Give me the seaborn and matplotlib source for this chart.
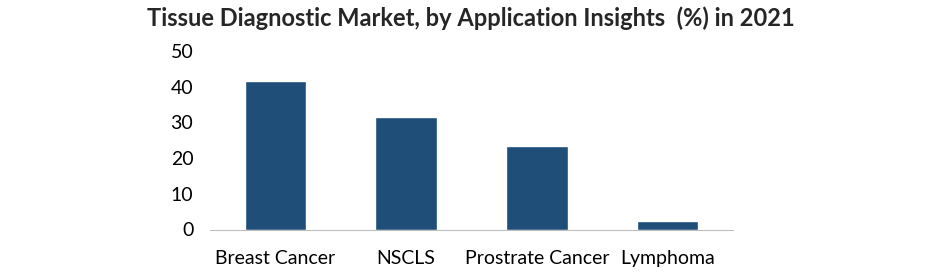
import matplotlib
matplotlib.use("Agg")
import matplotlib.pyplot as plt
import seaborn as sns
import pandas as pd
from matplotlib.ticker import FixedLocator

categories = ["Breast Cancer", "NSCLS", "Prostrate Cancer", "Lymphoma"]
values = [41.5, 31.5, 23.4, 2.4]
yticks = [0, 10, 20, 30, 40, 50]
title = "Tissue Diagnostic Market, by Application Insights  (%) in 2021"

sns.set_theme(style="white")
plt.rcParams['font.family'] = ['Lato', 'DejaVu Sans']

df = pd.DataFrame({"Application": categories, "Share": values})

fig = plt.figure(figsize=(9.41, 2.74), dpi=100)
ax = fig.add_axes([210/941, 1-229.5/274, (733-210)/941, (229.5-51)/274])
sns.barplot(data=df, x="Application", y="Share", color="#1F4E79", saturation=1,
            width=0.47, ax=ax)
ax.set_ylim(0, 50)
ax.set_xlim(-0.5, len(categories) - 0.5)
ax.set_yticks(yticks)
ax.set_xlabel("")
ax.set_ylabel("")
for s in ["top", "right", "left"]:
    ax.spines[s].set_visible(False)
ax.spines["bottom"].set_color("#BFBFBF")
ax.spines["bottom"].set_linewidth(0.8)
ax.tick_params(axis="y", length=0, labelsize=14, pad=12, colors="#000000")
ax.tick_params(axis="x", which="major", length=0, labelsize=14, pad=15, colors="#000000")
ax.xaxis.set_minor_locator(FixedLocator([i - 0.5 for i in range(len(categories) + 1)]))
ax.tick_params(axis="x", which="minor", length=6, color="#BFBFBF", width=0.8)
for lbl in ax.get_xticklabels() + ax.get_yticklabels():
    lbl.set_color("#000000")
fig.suptitle(title, fontsize=17, fontweight="bold", x=0.5, y=1 - 18/274, va="center")
fig.savefig("out.png", dpi=100, facecolor="white")
